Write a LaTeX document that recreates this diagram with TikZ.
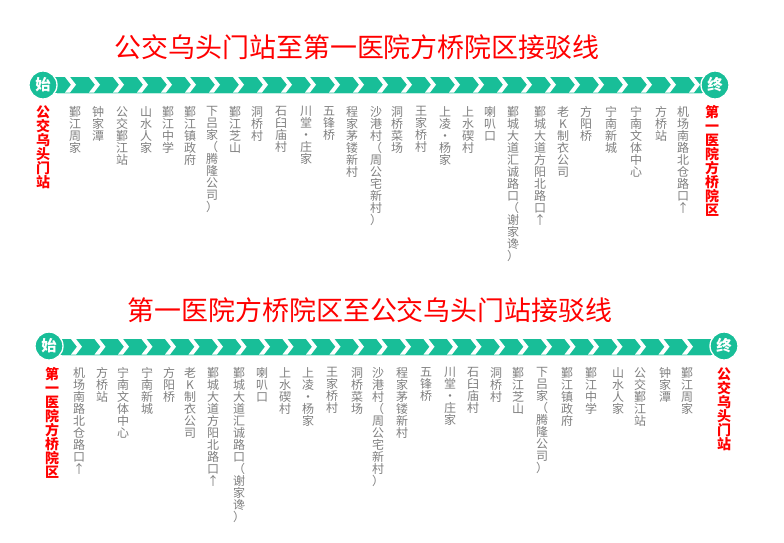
\documentclass[tikz,border=0pt]{standalone}
\usepackage{fontspec}
\newfontfamily\cjk{Noto Sans CJK SC}
\definecolor{lgreen}{RGB}{24,190,152}
\definecolor{lpale}{RGB}{190,238,225}
\definecolor{tgray}{RGB}{128,128,128}
\makeatletter
\def\vst#1{\vbox{\baselineskip=1em\lineskiplimit=-\maxdimen\lineskip=0pt\vst@a#1\vst@end}}
\def\vst@a#1#2\vst@end{\hbox to 1em{\hss#1\hss}\if\relax\detokenize{#2}\relax\else\vst@a#2\vst@end\fi}
\makeatother
\tikzset{
  titlet/.style={text=red, font=\cjk\fontsize{20.2}{22}\selectfont, inner sep=0},
  stopl/.style={anchor=north, inner sep=0, text=tgray, font=\cjk\fontsize{9}{9}\selectfont},
  terml/.style={anchor=north, inner sep=0, text=red, font=\cjk\bfseries\fontsize{10.5}{10.5}\selectfont},
  endc/.style={circle, fill=lgreen, draw=white, line width=1pt, minimum size=21pt, inner sep=0, text=white, font=\cjk\bfseries\fontsize{11.5}{11.5}\selectfont},
  chev/.style={fill=white},
}
\begin{document}
\begin{tikzpicture}[x=0.75pt,y=-0.75pt]
\useasboundingbox[fill=white] (0,0) rectangle (784,542);
% titles
\node[titlet] (t1) at (357,47) {公交乌头门站至第一医院方桥院区接驳线};
\node[titlet] (t2) at (370,310) {第一医院方桥院区至公交乌头门站接驳线};
% bar 1
\fill[lgreen] (43,77) rectangle (715,92.5);
\foreach \i in {0,...,26}{
  \pgfmathsetmacro\cx{71+24*\i}
  \fill[chev] (\cx-6,77) -- (\cx-1,77) -- (\cx+5,84.75) -- (\cx-1,92.5) -- (\cx-6,92.5) -- (\cx,84.75) -- cycle;
}
\fill[lpale] (57,92.5) rectangle (702,94);
\node[endc] (s1) at (43,85) {始};
\node[endc] (e1) at (715,85) {终};
% bar 2
\fill[lgreen] (49,339) rectangle (724,354.5);
\foreach \i in {0,...,26}{
  \pgfmathsetmacro\cx{77+23.5*\i}
  \fill[chev] (\cx-6,339) -- (\cx-1,339) -- (\cx+5,346.75) -- (\cx-1,354.5) -- (\cx-6,354.5) -- (\cx,346.75) -- cycle;
}
\fill[lpale] (62,354.5) rectangle (711,356);
\node[endc] (s2) at (49,346) {始};
\node[endc] (e2) at (724,346) {终};
% terminals
\node[terml] (r1) at (43,105) {\vst{公交乌头门站}};
\node[terml] (r2) at (712,105) {\vst{第一医院方桥院区}};
\node[terml] (r3) at (52,367) {\vst{第一医院方桥院区}};
\node[terml] (r4) at (724,367) {\vst{公交乌头门站}};
% stops line 1
\foreach \x/\s [count=\k] in {75/鄞江周家,98/钟家潭,122/公交鄞江站,146/山水人家,168/鄞江中学,190/鄞江镇政府,212/下吕家（腾隆公司）,235/鄞江芝山,257/洞桥村,281/石臼庙村,306/川堂·庄家,329/五锋桥,352/程家茅镂新村,376/沙港村（周公宅新村）,397/洞桥菜场,421/王家桥村,445/上凌·杨家,468/上水碶村,490/喇叭口,513/鄞城大道汇诚路口（谢家谗）,540/鄞城大道方阳北路口↑,563/老K制衣公司,586/方阳桥,611/宁南新城,636/宁南文体中心,661/方桥站,683/机场南路北仓路口↑}{
  \node[stopl] (a\k) at (\x,106) {\expandafter\vst\expandafter{\s}};
}
% stops line 2
\foreach \x/\s [count=\k] in {79/机场南路北仓路口↑,102/方桥站,123/宁南文体中心,147/宁南新城,169/方阳桥,190/老K制衣公司,213/鄞城大道方阳北路口↑,239/鄞城大道汇诚路口（谢家谗）,262/喇叭口,285/上水碶村,308/上凌·杨家,332/王家桥村,357/洞桥菜场,378/沙港村（周公宅新村）,402/程家茅镂新村,426/五锋桥,450/川堂·庄家,473/石臼庙村,496/洞桥村,518/鄞江芝山,542/下吕家（腾隆公司）,567/鄞江镇政府,591/鄞江中学,618/山水人家,640/公交鄞江站,665/钟家潭,687/鄞江周家}{
  \node[stopl] (b\k) at (\x,367) {\expandafter\vst\expandafter{\s}};
}
\end{tikzpicture}
\end{document}
